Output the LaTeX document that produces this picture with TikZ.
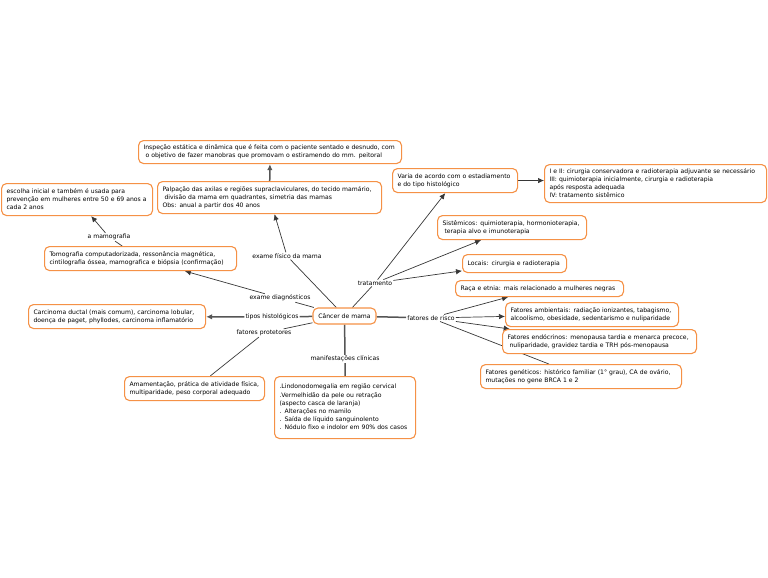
\documentclass[tikz,border=0pt]{standalone}
\usepackage{fontspec}
\setmainfont{DejaVu Sans}
\usetikzlibrary{arrows.meta,backgrounds}
\definecolor{boxorange}{RGB}{245,145,70}
\definecolor{linegray}{RGB}{55,55,55}
\newcommand\boxlines[1]{\begin{tabular}{@{}l@{}}#1\end{tabular}}
\tikzset{
  box/.style={draw=boxorange, line width=1.1pt, rounded corners=5pt, fill=white,
    align=left, anchor=north west, inner xsep=5pt, inner ysep=2pt,
    font=\fontsize{6.1}{8.1}\selectfont},
  centerbox/.style={draw=boxorange, line width=1.1pt, rounded corners=5pt, fill=white,
    align=center, inner sep=2pt, font=\fontsize{6.1}{8.1}\selectfont},
  lbl/.style={inner sep=1pt, font=\fontsize{6.1}{8.1}\selectfont},
  thin/.style={draw=linegray, line width=0.7pt},
  thick/.style={draw=linegray!85, line width=1.5pt},
  arr/.style={-{Latex[length=6pt,width=5.5pt]}},
}
\begin{document}
\begin{tikzpicture}[x=1pt,y=-1pt]
\useasboundingbox (0,0) rectangle (768,578);

% boxes
\node[box, minimum width=263pt, minimum height=23pt, text width=253pt] (insp) at (138,140)
 {\boxlines{Inspeção estática e dinâmica que é feita com o paciente sentado e desnudo, com\\\ o objetivo de fazer manobras que promovam o estiramendo do mm. peitoral}};
\node[box, minimum width=224pt, minimum height=32pt, text width=214pt] (palp) at (157,181)
 {\boxlines{Palpação das axilas e regiões supraclaviculares, do tecido mamário,\\\ divisão da mama em quadrantes, simetria das mamas\\Obs: anual a partir dos 40 anos}};
\node[box, minimum width=151pt, minimum height=32pt, text width=141pt] (escolha) at (1,183)
 {\boxlines{escolha inicial e também é usada para\\prevenção em mulheres entre 50 e 69 anos a\\cada 2 anos}};
\node[box, minimum width=192pt, minimum height=24pt, text width=182pt] (tomo) at (44,246)
 {\boxlines{Tomografia computadorizada, ressonância magnética,\\cintilografia óssea, mamografica e biópsia (confirmação)}};
\node[box, minimum width=177pt, minimum height=24pt, text width=167pt] (carc) at (28,304)
 {\boxlines{Carcinoma ductal (mais comum), carcinoma lobular,\\doença de paget, phyllodes, carcinoma inflamatório}};
\node[centerbox, minimum width=63pt, minimum height=16pt] (cancer) at (344.5,316) {Câncer de mama};
\node[box, minimum width=140pt, minimum height=24pt, text width=130pt] (amam) at (124,376)
 {\boxlines{Amamentação, prática de atividade física,\\multiparidade, peso corporal adequado}};
\node[box, minimum width=141pt, minimum height=62pt, text width=131pt] (manif) at (274,376)
 {\boxlines{.Lindonodomegalia em região cervical\\.Vermelhidão da pele ou retração\\(aspecto casca de laranja)\\. Alterações no mamilo\\. Saída de líquido sanguinolento\\. Nódulo fixo e indolor em 90\% dos casos}};
\node[box, minimum width=125pt, minimum height=24pt, text width=115pt] (varia) at (392,168)
 {\boxlines{Varia de acordo com o estadiamento\\e do tipo histológico}};
\node[box, minimum width=222pt, minimum height=38pt, text width=212pt] (estagios) at (544,164)
 {\boxlines{I e II: cirurgia conservadora e radioterapia adjuvante se necessário\\III: quimioterapia inicialmente, cirurgia e radioterapia\\após resposta adequada\\IV: tratamento sistêmico}};
\node[box, minimum width=149pt, minimum height=24pt, text width=139pt] (sist) at (437,215)
 {\boxlines{Sistêmicos: quimioterapia, hormonioterapia,\\\ terapia alvo e imunoterapia}};
\node[box, minimum width=104pt, minimum height=18pt, text width=94pt] (locais) at (462,254)
 {\boxlines{Locais: cirurgia e radioterapia}};
\node[box, minimum width=168pt, minimum height=16pt, text width=158pt] (raca) at (455,280)
 {\boxlines{Raça e etnia: mais relacionado a mulheres negras}};
\node[box, minimum width=173pt, minimum height=24pt, text width=163pt] (amb) at (505,302)
 {\boxlines{Fatores ambientais: radiação ionizantes, tabagismo,\\alcoolismo, obesidade, sedentarismo e nuliparidade}};
\node[box, minimum width=194pt, minimum height=24pt, text width=184pt] (endo) at (502,329)
 {\boxlines{Fatores endócrinos: menopausa tardia e menarca precoce,\\\ nuliparidade, gravidez tardia e TRH pós-menopausa}};
\node[box, minimum width=201pt, minimum height=24pt, text width=191pt] (gen) at (480,364)
 {\boxlines{Fatores genéticos: histórico familiar (1° grau), CA de ovário,\\mutações no gene BRCA 1 e 2}};

% labels
\node[lbl] (lexfis) at (287,256) {exame físico da mama};
\node[lbl] (lexdiag) at (280,298) {exame diagnósticos};
\node[lbl] (ltipos) at (272,317) {tipos histológicos};
\node[lbl] (lprot) at (264,333) {fatores protetores};
\node[lbl] (lmanif) at (345,359) {manifestações clínicas};
\node[lbl] (ltrat) at (375,283) {tratamento};
\node[lbl] (lrisco) at (431,318) {fatores de risco};
\node[lbl] (lmamo) at (109,237) {a mamografia};

% connectors
\begin{scope}[on background layer]
\draw[thin] (cancer) -- (lexfis);
\draw[thin,arr] (lexfis) -- (palp);
\draw[thick,arr] (palp) -- (insp);
\draw[thin] (cancer) -- (lexdiag);
\draw[thin,arr] (lexdiag) -- (tomo);
\draw[thin] (tomo) -- (lmamo);
\draw[thin,arr] (lmamo) -- (escolha);
\draw[thick] (cancer) -- (ltipos);
\draw[thick,arr] (ltipos) -- (carc);
\draw[thin] (cancer) -- (lprot);
\draw[thin] (lprot) -- (amam);
\draw[thick] (cancer) -- (lmanif);
\draw[thick] (lmanif) -- (manif);
\draw[thin] (cancer) -- (ltrat);
\draw[thin,arr] (ltrat) -- (varia);
\draw[thin,arr] (ltrat) -- (sist);
\draw[thin,arr] (ltrat) -- (locais);
\draw[thin,arr] (varia.east) -- (varia.east -| estagios.west);
\draw[thick] (cancer) -- (lrisco);
\draw[thin,arr] (lrisco) -- (raca);
\draw[thin,arr] (lrisco) -- (amb);
\draw[thin,arr] (lrisco) -- (endo);
\draw[thin] (lrisco) -- (gen);
\end{scope}
\end{tikzpicture}
\end{document}
